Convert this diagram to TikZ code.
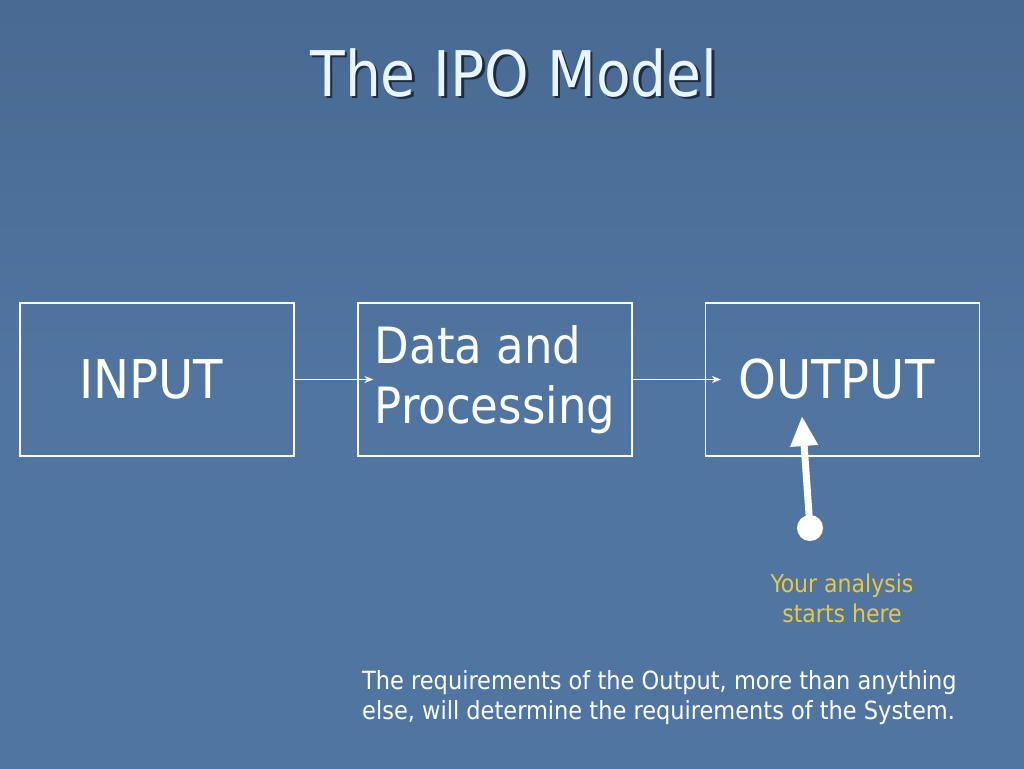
\documentclass[tikz,border=0pt]{standalone}
\usepackage{fontspec}
\setmainfont{DejaVu Sans Condensed}
\usetikzlibrary{arrows.meta}
\definecolor{bg}{HTML}{5075A0}
\definecolor{bgtop}{HTML}{486A93}
\definecolor{titlefg}{HTML}{EAF6FF}
\definecolor{shadowc}{HTML}{1C2C44}
\definecolor{note}{HTML}{E8C840}
\tikzset{
  stagebox/.style={draw=white, line width=1.2pt, minimum width=274pt, minimum height=153pt, inner sep=0pt, text=white, font=\fontsize{50}{60}\selectfont},
  bigword/.style={font=\fontsize{53.5}{60}\selectfont},
  flow/.style={draw=white, line width=1.3pt, -{Stealth[length=9pt,width=7pt]}},
  pointer/.style={draw=white, line width=7pt, -{Triangle[length=30pt,width=26pt]}},
  txt/.style={text=white, font=\fontsize{25}{30}\selectfont, inner sep=0pt},
}
\begin{document}
\begin{tikzpicture}[x=1pt,y=-1pt]
\useasboundingbox (0,0) rectangle (1024,768);
\shade[top color=bgtop, bottom color=bg, middle color=bg] (0,0) rectangle (1024,768);
% title
\node[text=shadowc, font=\fontsize{63}{70}\selectfont] (titleshadow) at (516.5,75.5) {The IPO Model};
\node[text=titlefg, font=\fontsize{63}{70}\selectfont] (title) at (514,73) {The IPO Model};
% boxes
\node[stagebox, bigword] (in) at (157,379.5) {\raisebox{-3pt}{\hspace*{-12pt}INPUT}};
\node[stagebox, align=left] (dp) at (495,379.5) {Data and\\Processing};
\node[stagebox, bigword] (out) at (842.5,379.5) {\raisebox{-3pt}{\hspace*{-12pt}OUTPUT}};
% flow arrows
\draw[flow] (in.east) -- ([xshift=16pt]dp.west);
\draw[flow] (dp.east) -- ([xshift=16pt]out.west);
% pointer
\node[circle, fill=white, minimum size=26pt, inner sep=0pt] (dot) at (810,528) {};
\coordinate (tip) at (802,416);
\draw[pointer] (dot.center) -- (tip);
% notes
\node[txt, text=note, align=center, font=\fontsize{24.5}{30}\selectfont] (start) at (842,598) {Your analysis\\starts here};
\node[txt, align=left, anchor=north west] (req) at (362,670) {The requirements of the Output, more than anything\\else, will determine the requirements of the System.};
\end{tikzpicture}
\end{document}
